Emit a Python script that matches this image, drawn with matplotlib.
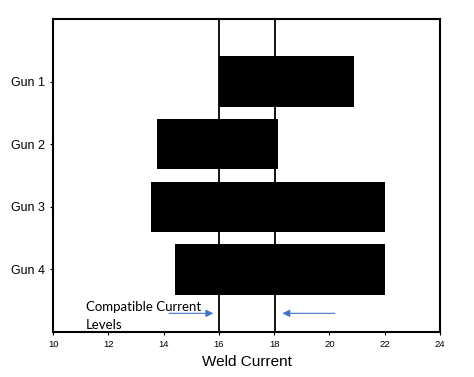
import matplotlib
matplotlib.use('Agg')
import matplotlib.pyplot as plt

guns = ['Gun 1', 'Gun 2', 'Gun 3', 'Gun 4']
low = [16.0, 13.75, 13.55, 14.4]
high = [20.9, 18.15, 22.0, 22.0]
compatible = [16.0, 18.05]
xticks = [10, 12, 14, 16, 18, 20, 22, 24]

plt.rc('font', family=['Liberation Sans', 'DejaVu Sans'])

fig = plt.figure(figsize=(4.74, 3.77), dpi=100)
ax = fig.add_axes([0.112, 0.119, 0.816, 0.831])

ypos = [1, 2, 3, 4]
widths = [h - l for l, h in zip(low, high)]
ax.barh(ypos, widths, left=low, height=0.8, color='black')

for x in compatible:
    ax.axvline(x, color='black', lw=1.3)

ax.set_xlim(10, 24)
ax.set_ylim(5, 0)
ax.set_xticks(xticks)
ax.set_xticklabels([str(t) for t in xticks], fontsize=6.8)
ax.set_yticks(ypos)
ax.set_yticklabels(guns, fontsize=9)
ax.tick_params(direction='out', length=2.5, width=0.8)
for s in ax.spines.values():
    s.set_linewidth(1.5)
ax.set_xlabel('Weld Current', fontsize=11, labelpad=4)

ax.text(11.2, 4.74, 'Compatible Current\nLevels', fontsize=9.5, family=['Lato', 'DejaVu Sans'],
        va='center', ha='left', linespacing=1.6)
ax.annotate('', xy=(15.9, 4.7), xytext=(14.1, 4.7),
            arrowprops=dict(arrowstyle='-|>', color='#4472C4', lw=0.8, mutation_scale=11))
ax.annotate('', xy=(18.2, 4.7), xytext=(20.3, 4.7),
            arrowprops=dict(arrowstyle='-|>', color='#4472C4', lw=0.8, mutation_scale=11))

fig.savefig('out.png', dpi=100)
